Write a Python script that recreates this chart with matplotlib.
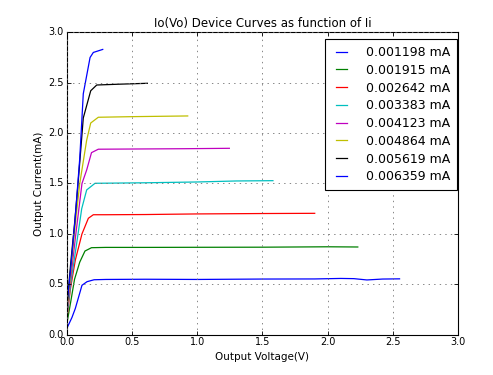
import matplotlib
matplotlib.use("Agg")
import matplotlib.pyplot as plt
import numpy as np

# input currents (legend labels)
ii_labels = ["0.001198 mA", "0.001915 mA", "0.002642 mA", "0.003383 mA",
             "0.004123 mA", "0.004864 mA", "0.005619 mA", "0.006359 mA"]

# output voltage / output current per curve
vo_1 = [0.0, 0.04, 0.066, 0.117, 0.156, 0.21, 0.3, 0.6, 1.0, 1.5, 1.9, 2.1, 2.2, 2.3, 2.42, 2.55]
io_1 = [0.06, 0.17, 0.26, 0.49, 0.526, 0.545, 0.548, 0.55, 0.548, 0.552, 0.553, 0.558, 0.556, 0.543, 0.552, 0.554]

vo_2 = [0.0, 0.03, 0.06, 0.1, 0.14, 0.19, 0.3, 0.6, 1.0, 1.5, 2.0, 2.23]
io_2 = [0.1, 0.32, 0.55, 0.72, 0.83, 0.863, 0.866, 0.866, 0.867, 0.868, 0.872, 0.870]

vo_3 = [0.0, 0.028, 0.066, 0.117, 0.166, 0.204, 0.3, 0.6, 1.0, 1.5, 1.9]
io_3 = [0.14, 0.45, 0.74, 1.0, 1.155, 1.19, 1.19, 1.192, 1.198, 1.202, 1.204]

vo_4 = [0.0, 0.03, 0.07, 0.115, 0.153, 0.217, 0.3, 0.6, 1.0, 1.3, 1.58]
io_4 = [0.17, 0.5, 0.85, 1.25, 1.436, 1.502, 1.503, 1.507, 1.515, 1.525, 1.528]

vo_5 = [0.0, 0.03, 0.07, 0.117, 0.153, 0.19, 0.242, 0.5, 0.9, 1.246]
io_5 = [0.2, 0.55, 1.0, 1.5, 1.634, 1.806, 1.84, 1.842, 1.845, 1.849]

vo_6 = [0.0, 0.03, 0.07, 0.1, 0.153, 0.184, 0.242, 0.5, 0.927]
io_6 = [0.22, 0.6, 1.15, 1.5, 1.93, 2.10, 2.157, 2.163, 2.17]

vo_7 = [0.0, 0.03, 0.06, 0.087, 0.127, 0.184, 0.23, 0.4, 0.618]
io_7 = [0.25, 0.7, 1.1, 1.5, 2.15, 2.42, 2.477, 2.485, 2.494]

vo_8 = [0.0, 0.03, 0.064, 0.1, 0.127, 0.179, 0.204, 0.276]
io_8 = [0.28, 0.65, 1.14, 1.75, 2.39, 2.75, 2.80, 2.83]

curves_v = [vo_1, vo_2, vo_3, vo_4, vo_5, vo_6, vo_7, vo_8]
curves_i = [io_1, io_2, io_3, io_4, io_5, io_6, io_7, io_8]
colors = ["b", "g", "r", "c", "m", "y", "k", "b"]

plt.style.use("classic")
plt.rcParams['font.family'] = 'DejaVu Sans'

fig = plt.figure(figsize=(4.93, 3.75), dpi=100, facecolor="white")
ax = fig.add_axes([0.1353, 0.1075, 0.7943, 0.8064])

for v, i, c, lab in zip(curves_v, curves_i, colors, ii_labels):
    ax.plot(v, i, color=c, linewidth=0.9, label=lab)

ax.set_xlim(0, 3)
ax.set_ylim(0, 3)
ax.set_xticks(np.arange(0, 3.01, 0.5))
ax.set_yticks(np.arange(0, 3.01, 0.5))
ax.tick_params(labelsize=7, length=3, width=0.6, direction="in", top=True, right=True, pad=2)
ax.grid(True, linestyle=":", color="0.45", linewidth=0.6)
for s in ax.spines.values():
    s.set_linewidth(0.8)

ax.set_title("Io(Vo) Device Curves as function of Ii", fontsize=8.5, pad=4)
ax.set_xlabel("Output Voltage(V)", fontsize=7.5, labelpad=3)
ax.set_ylabel("Output Current(mA)", fontsize=7.5, labelpad=3)

leg = ax.legend(loc="upper right", bbox_to_anchor=(0.9959, 0.977), borderaxespad=0,
                fontsize=9, handlelength=1.5, handletextpad=1.2, labelspacing=0.38,
                borderpad=0.55, fancybox=False, framealpha=1)
leg.get_frame().set_edgecolor("black")
leg.get_frame().set_linewidth(0.8)

fig.savefig("out.png", dpi=100, facecolor="white")
